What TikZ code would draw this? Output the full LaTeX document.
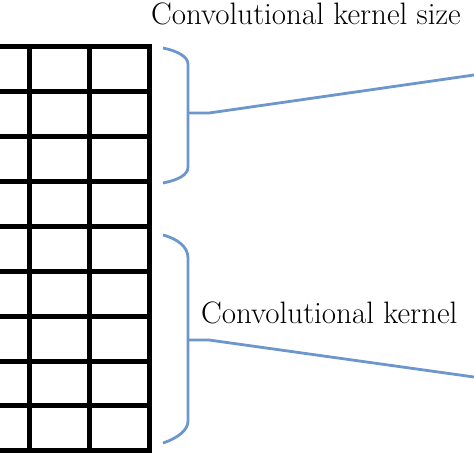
\documentclass[tikz,border=0pt]{standalone}
\usepackage{xcolor}
\definecolor{braceblue}{RGB}{108,150,204}
\usepackage{tikz}
\tikzstyle{gridline} = [line width=5pt, black, line cap=rect]
\tikzstyle{bracket} = [line width=2.8pt, braceblue]
\tikzstyle{kernellabel} = [anchor=base west, inner sep=0pt, font=\fontsize{31}{37}\selectfont]

\begin{document}
\begin{tikzpicture}[x=1pt, y=-1pt]

    \useasboundingbox (0,0) rectangle (474,474);
    \clip (0,0) rectangle (474,474);

    % grid
    \foreach \r in {0,...,9}
        \draw[gridline] (-31,46.7+44.9*\r) -- (149,46.7+44.9*\r);
    \foreach \c in {-31,29,89,149}
        \draw[gridline] (\c,46.7) -- (\c,450.8);

    \node (sizeUp) [kernellabel] at (151,24) {Convolutional kernel size};
    \node (sizeDown) [kernellabel] at (201,323) {Convolutional kernel};

    \coordinate (upperTop) at (163,48);
    \coordinate (upperBottom) at (163,183);
    \coordinate (upperMid) at (188,113);
    \coordinate (upperEnd) at (474,75);

    \coordinate (lowerTop) at (163,235);
    \coordinate (lowerBottom) at (163,443);
    \coordinate (lowerMid) at (188,340);
    \coordinate (lowerEnd) at (474,377);

    \draw[bracket] (upperTop) .. controls (178,51) and (188,57) .. (188,64) -- (188,167) .. controls (188,175) and (178,180) .. (upperBottom);
    \draw[bracket] (lowerTop) .. controls (178,239) and (188,247) .. (188,258) -- (188,421) .. controls (188,430) and (178,438) .. (lowerBottom);

    \draw[bracket] (upperMid) -- ++(21,0) -- (upperEnd);
    \draw[bracket] (lowerMid) -- ++(21,0) -- (lowerEnd);

\end{tikzpicture}
\end{document}
